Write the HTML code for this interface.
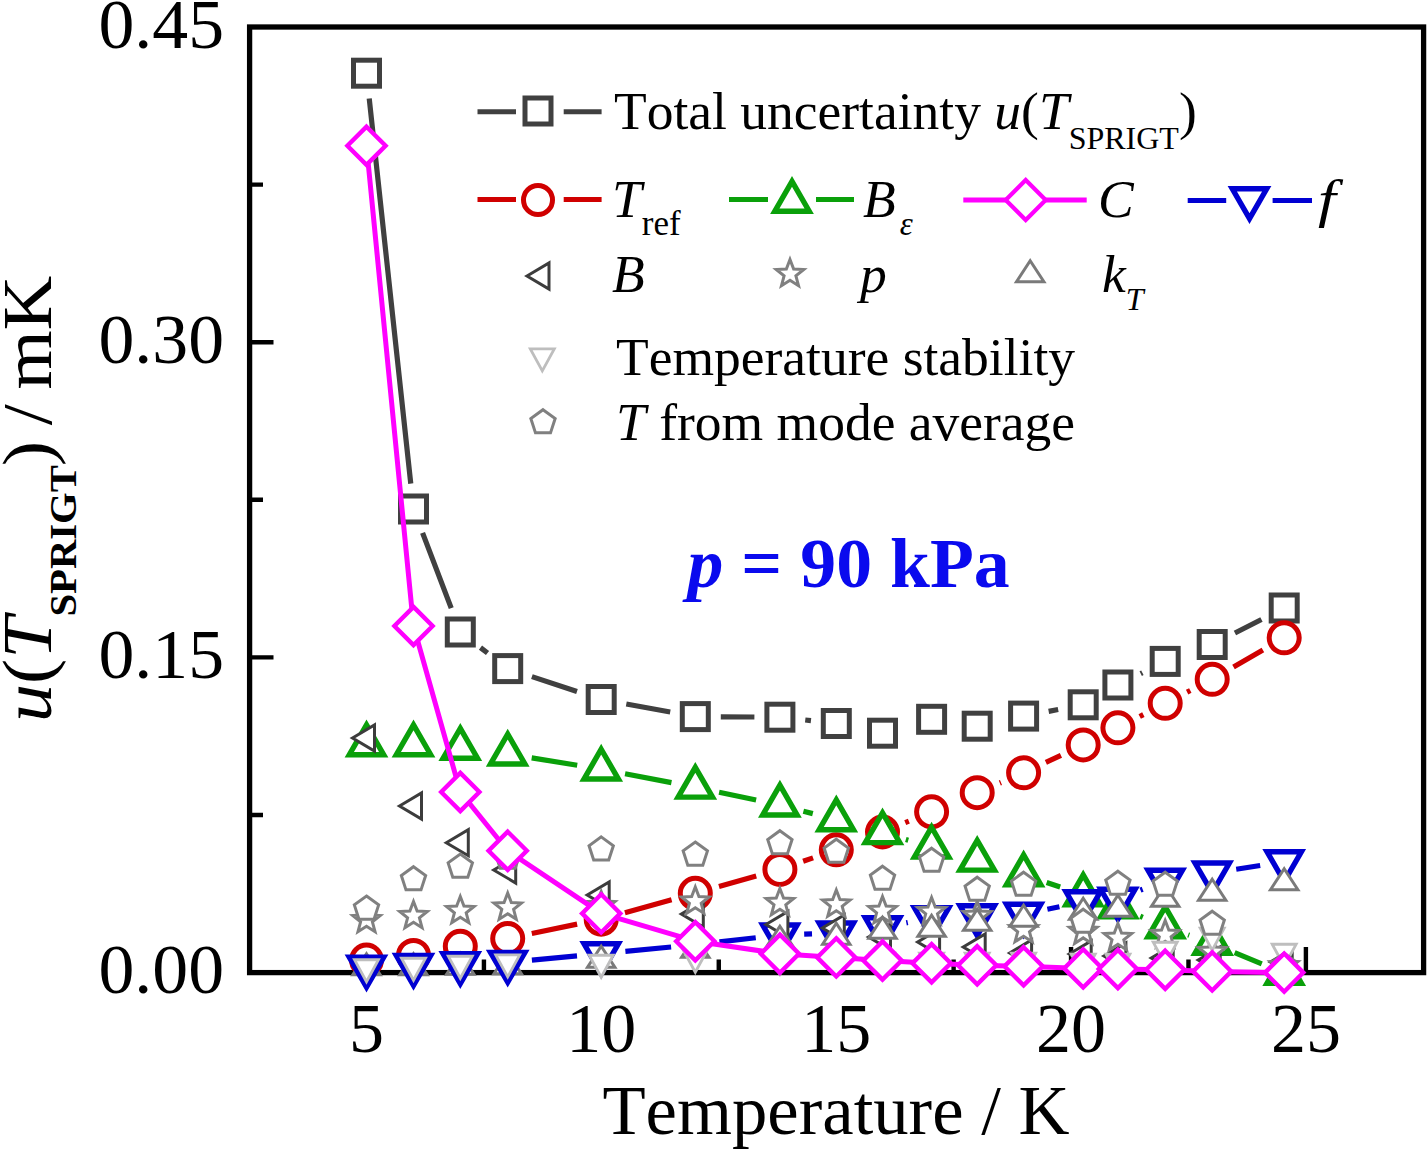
<!DOCTYPE html>
<html><head><meta charset="utf-8"><style>
html,body{margin:0;padding:0;background:#fff;}
body{width:1427px;height:1149px;overflow:hidden;font-family:"Liberation Serif",serif;}
svg{display:block;font-kerning:none;}
text{font-kerning:none;}
</style></head><body>
<svg width="1427" height="1149" viewBox="0 0 1427 1149">
<rect width="1427" height="1149" fill="#fff"/>
<rect x="249.6" y="27.0" width="1174" height="945.6" fill="none" stroke="#000" stroke-width="5.3"/>
<path d="M366.5,972.6V947M601.35,972.6V947M836.2,972.6V947M1071.05,972.6V947M1305.9,972.6V947M483.93,972.6V959.5M718.77,972.6V959.5M953.62,972.6V959.5M1188.47,972.6V959.5M249.6,657.4H273.5M249.6,342.21H273.5M249.6,815H263M249.6,499.81H263M249.6,184.61H263" stroke="#000" stroke-width="4.4" fill="none"/>
<g font-family="&quot;Liberation Serif&quot;, serif" font-size="70" fill="#000">
<text transform="translate(98.5,993.2) scale(1.025,1)">0.00</text>
<text transform="translate(98.5,678) scale(1.025,1)">0.15</text>
<text transform="translate(98.5,362.81) scale(1.025,1)">0.30</text>
<text transform="translate(98.5,47.61) scale(1.025,1)">0.45</text>
<text x="366.5" y="1052" text-anchor="middle">5</text>
<text x="601.35" y="1052" text-anchor="middle">10</text>
<text x="836.2" y="1052" text-anchor="middle">15</text>
<text x="1071.05" y="1052" text-anchor="middle">20</text>
<text x="1305.9" y="1052" text-anchor="middle">25</text>
<text transform="translate(836,1134) scale(1.01,1)" text-anchor="middle">Temperature / K</text>
<text transform="translate(51,498.8) rotate(-90) scale(1.085,1)" text-anchor="middle"><tspan font-style="italic">u</tspan>(<tspan font-style="italic">T</tspan><tspan font-size="37.5" font-weight="bold" dy="25">SPRIGT</tspan><tspan dy="-25" dx="-1">)</tspan><tspan dx="-3"> /</tspan><tspan dx="-4"> mK</tspan></text>
</g>
<text transform="translate(687.5,587) scale(1.026,1)" font-family="&quot;Liberation Serif&quot;, serif" font-size="70" font-weight="bold" fill="#0a0aee"><tspan font-style="italic">p</tspan> = 90 kPa</text>
<path d="M369.23,98.55L410.77,483.65M422.57,532.83L451.23,608.17M480.48,647.58L487.52,653.02M531.91,676.6L576.99,691.5M626.29,704.06L670.21,712.04M720.8,716.78L754.4,717.02M805.24,720.03L810.96,720.67M1048.65,711.35L1058.15,709.55M1140.72,673.62L1142.38,672.78M1234.94,632.97L1261.46,619.53" fill="none" stroke="#404040" stroke-width="5.2" stroke-linecap="butt"/>
<rect x="353.5" y="60.2" width="26" height="26" fill="#fff" stroke="#404040" stroke-width="5"/><rect x="400.5" y="496" width="26" height="26" fill="#fff" stroke="#404040" stroke-width="5"/><rect x="447.3" y="619" width="26" height="26" fill="#fff" stroke="#404040" stroke-width="5"/><rect x="494.7" y="655.6" width="26" height="26" fill="#fff" stroke="#404040" stroke-width="5"/><rect x="588.2" y="686.5" width="26" height="26" fill="#fff" stroke="#404040" stroke-width="5"/><rect x="682.3" y="703.6" width="26" height="26" fill="#fff" stroke="#404040" stroke-width="5"/><rect x="766.9" y="704.2" width="26" height="26" fill="#fff" stroke="#404040" stroke-width="5"/><rect x="823.3" y="710.5" width="26" height="26" fill="#fff" stroke="#404040" stroke-width="5"/><rect x="869.5" y="720.2" width="26" height="26" fill="#fff" stroke="#404040" stroke-width="5"/><rect x="918.6" y="706.3" width="26" height="26" fill="#fff" stroke="#404040" stroke-width="5"/><rect x="964.2" y="713.2" width="26" height="26" fill="#fff" stroke="#404040" stroke-width="5"/><rect x="1010.6" y="703.1" width="26" height="26" fill="#fff" stroke="#404040" stroke-width="5"/><rect x="1070.2" y="691.8" width="26" height="26" fill="#fff" stroke="#404040" stroke-width="5"/><rect x="1104.9" y="672" width="26" height="26" fill="#fff" stroke="#404040" stroke-width="5"/><rect x="1152.2" y="648.4" width="26" height="26" fill="#fff" stroke="#404040" stroke-width="5"/><rect x="1199.2" y="631.5" width="26" height="26" fill="#fff" stroke="#404040" stroke-width="5"/><rect x="1271.2" y="595" width="26" height="26" fill="#fff" stroke="#404040" stroke-width="5"/>
<path d="M531.79,933.53L577.11,924.17M624.92,912.67L671.58,899.83M718.97,886.61L756.23,876.09M803.14,861.32L813.06,857.88M905.25,822.64L908.85,821.16M999.81,783L1000.99,782.5M1045.88,762.37L1060.92,755.33M1139.74,716.49L1143.36,714.61M1187.11,692.11L1190.29,690.49M1233.51,667.02L1262.89,650.08" fill="none" stroke="#d00000" stroke-width="5.2" stroke-linecap="butt"/>
<circle cx="366.5" cy="960" r="15" fill="#fff" stroke="#d00000" stroke-width="5"/><circle cx="413.5" cy="955.4" r="15" fill="#fff" stroke="#d00000" stroke-width="5"/><circle cx="460.3" cy="946.3" r="15" fill="#fff" stroke="#d00000" stroke-width="5"/><circle cx="507.7" cy="938.5" r="15" fill="#fff" stroke="#d00000" stroke-width="5"/><circle cx="601.2" cy="919.2" r="15" fill="#fff" stroke="#d00000" stroke-width="5"/><circle cx="695.3" cy="893.3" r="15" fill="#fff" stroke="#d00000" stroke-width="5"/><circle cx="779.9" cy="869.4" r="15" fill="#fff" stroke="#d00000" stroke-width="5"/><circle cx="836.3" cy="849.8" r="15" fill="#fff" stroke="#d00000" stroke-width="5"/><circle cx="882.5" cy="832" r="15" fill="#fff" stroke="#d00000" stroke-width="5"/><circle cx="931.6" cy="811.8" r="15" fill="#fff" stroke="#d00000" stroke-width="5"/><circle cx="977.2" cy="792.7" r="15" fill="#fff" stroke="#d00000" stroke-width="5"/><circle cx="1023.6" cy="772.8" r="15" fill="#fff" stroke="#d00000" stroke-width="5"/><circle cx="1083.2" cy="744.9" r="15" fill="#fff" stroke="#d00000" stroke-width="5"/><circle cx="1117.9" cy="727.8" r="15" fill="#fff" stroke="#d00000" stroke-width="5"/><circle cx="1165.2" cy="703.3" r="15" fill="#fff" stroke="#d00000" stroke-width="5"/><circle cx="1212.2" cy="679.3" r="15" fill="#fff" stroke="#d00000" stroke-width="5"/><circle cx="1284.2" cy="637.8" r="15" fill="#fff" stroke="#d00000" stroke-width="5"/>
<path d="M531.69,757.87L577.21,765.23M625.06,773.69L671.44,782.61M719.08,792.2L756.12,800M803.4,811.17L812.8,813.63M905.82,839.54L908.28,840.26M1046.64,882.53L1060.16,887.07M1140.28,916.26L1142.82,917.34M1188.13,934.85L1189.27,935.25M1234.63,952.65L1261.77,963.95" fill="none" stroke="#0aa00a" stroke-width="5.2" stroke-linecap="butt"/>
<path d="M366.5,724.95L383.7,754.75L349.3,754.75Z" fill="#fff" stroke="#0aa00a" stroke-width="5.4" stroke-linejoin="miter"/><path d="M413.5,724.95L430.7,754.75L396.3,754.75Z" fill="#fff" stroke="#0aa00a" stroke-width="5.4" stroke-linejoin="miter"/><path d="M460.3,728.45L477.5,758.25L443.1,758.25Z" fill="#fff" stroke="#0aa00a" stroke-width="5.4" stroke-linejoin="miter"/><path d="M507.7,734.15L524.9,763.95L490.5,763.95Z" fill="#fff" stroke="#0aa00a" stroke-width="5.4" stroke-linejoin="miter"/><path d="M601.2,749.25L618.4,779.05L584,779.05Z" fill="#fff" stroke="#0aa00a" stroke-width="5.4" stroke-linejoin="miter"/><path d="M695.3,767.35L712.5,797.15L678.1,797.15Z" fill="#fff" stroke="#0aa00a" stroke-width="5.4" stroke-linejoin="miter"/><path d="M779.9,785.15L797.1,814.95L762.7,814.95Z" fill="#fff" stroke="#0aa00a" stroke-width="5.4" stroke-linejoin="miter"/><path d="M836.3,799.95L853.5,829.75L819.1,829.75Z" fill="#fff" stroke="#0aa00a" stroke-width="5.4" stroke-linejoin="miter"/><path d="M882.5,812.85L899.7,842.65L865.3,842.65Z" fill="#fff" stroke="#0aa00a" stroke-width="5.4" stroke-linejoin="miter"/><path d="M931.6,827.25L948.8,857.05L914.4,857.05Z" fill="#fff" stroke="#0aa00a" stroke-width="5.4" stroke-linejoin="miter"/><path d="M977.2,840.35L994.4,870.15L960,870.15Z" fill="#fff" stroke="#0aa00a" stroke-width="5.4" stroke-linejoin="miter"/><path d="M1023.6,854.95L1040.8,884.75L1006.4,884.75Z" fill="#fff" stroke="#0aa00a" stroke-width="5.4" stroke-linejoin="miter"/><path d="M1083.2,874.95L1100.4,904.75L1066,904.75Z" fill="#fff" stroke="#0aa00a" stroke-width="5.4" stroke-linejoin="miter"/><path d="M1117.9,886.95L1135.1,916.75L1100.7,916.75Z" fill="#fff" stroke="#0aa00a" stroke-width="5.4" stroke-linejoin="miter"/><path d="M1165.2,906.95L1182.4,936.75L1148,936.75Z" fill="#fff" stroke="#0aa00a" stroke-width="5.4" stroke-linejoin="miter"/><path d="M1212.2,923.45L1229.4,953.25L1195,953.25Z" fill="#fff" stroke="#0aa00a" stroke-width="5.4" stroke-linejoin="miter"/><path d="M1284.2,953.45L1301.4,983.25L1267,983.25Z" fill="#fff" stroke="#0aa00a" stroke-width="5.4" stroke-linejoin="miter"/>
<path d="M366.5,953.75L380.2,974.75L352.8,974.75Z" fill="#fff" stroke="#7a7a7a" stroke-width="3" stroke-linejoin="miter"/><path d="M413.5,953.75L427.2,974.75L399.8,974.75Z" fill="#fff" stroke="#7a7a7a" stroke-width="3" stroke-linejoin="miter"/><path d="M460.3,953.25L474,974.25L446.6,974.25Z" fill="#fff" stroke="#7a7a7a" stroke-width="3" stroke-linejoin="miter"/><path d="M507.7,952.75L521.4,973.75L494,973.75Z" fill="#fff" stroke="#7a7a7a" stroke-width="3" stroke-linejoin="miter"/>
<path d="M531.9,960.07L577,955.93M625.39,951.39L671.11,947.01M719.44,941.93L755.76,937.77M804.18,934.14L812.02,933.86M906.31,922.85L907.79,922.55M1047.38,909.21L1059.42,906.69M1140.45,890.14L1142.65,889.26M1236.21,869.23L1260.19,865.47" fill="none" stroke="#0000d2" stroke-width="5.2" stroke-linecap="butt"/>
<path d="M349.3,957.25L383.7,957.25L366.5,987.05Z" fill="#fff" stroke="#0000d2" stroke-width="5.4" stroke-linejoin="miter"/><path d="M396.3,955.55L430.7,955.55L413.5,985.35Z" fill="#fff" stroke="#0000d2" stroke-width="5.4" stroke-linejoin="miter"/><path d="M443.1,953.75L477.5,953.75L460.3,983.55Z" fill="#fff" stroke="#0000d2" stroke-width="5.4" stroke-linejoin="miter"/><path d="M490.5,952.35L524.9,952.35L507.7,982.15Z" fill="#fff" stroke="#0000d2" stroke-width="5.4" stroke-linejoin="miter"/><path d="M584,943.75L618.4,943.75L601.2,973.55Z" fill="#fff" stroke="#0000d2" stroke-width="5.4" stroke-linejoin="miter"/><path d="M762.7,925.05L797.1,925.05L779.9,954.85Z" fill="#fff" stroke="#0000d2" stroke-width="5.4" stroke-linejoin="miter"/><path d="M819.1,923.05L853.5,923.05L836.3,952.85Z" fill="#fff" stroke="#0000d2" stroke-width="5.4" stroke-linejoin="miter"/><path d="M865.3,917.75L899.7,917.75L882.5,947.55Z" fill="#fff" stroke="#0000d2" stroke-width="5.4" stroke-linejoin="miter"/><path d="M914.4,907.75L948.8,907.75L931.6,937.55Z" fill="#fff" stroke="#0000d2" stroke-width="5.4" stroke-linejoin="miter"/><path d="M960,905.75L994.4,905.75L977.2,935.55Z" fill="#fff" stroke="#0000d2" stroke-width="5.4" stroke-linejoin="miter"/><path d="M1006.4,904.25L1040.8,904.25L1023.6,934.05Z" fill="#fff" stroke="#0000d2" stroke-width="5.4" stroke-linejoin="miter"/><path d="M1066,891.75L1100.4,891.75L1083.2,921.55Z" fill="#fff" stroke="#0000d2" stroke-width="5.4" stroke-linejoin="miter"/><path d="M1100.7,889.25L1135.1,889.25L1117.9,919.05Z" fill="#fff" stroke="#0000d2" stroke-width="5.4" stroke-linejoin="miter"/><path d="M1148,870.25L1182.4,870.25L1165.2,900.05Z" fill="#fff" stroke="#0000d2" stroke-width="5.4" stroke-linejoin="miter"/><path d="M1195,863.05L1229.4,863.05L1212.2,892.85Z" fill="#fff" stroke="#0000d2" stroke-width="5.4" stroke-linejoin="miter"/><path d="M1267,851.75L1301.4,851.75L1284.2,881.55Z" fill="#fff" stroke="#0000d2" stroke-width="5.4" stroke-linejoin="miter"/>
<path d="M352.5,738L374.5,725L374.5,751Z" fill="#fff" stroke="#3c3c3c" stroke-width="3" stroke-linejoin="miter"/><path d="M399.5,806L421.5,793L421.5,819Z" fill="#fff" stroke="#3c3c3c" stroke-width="3" stroke-linejoin="miter"/><path d="M446.3,842.7L468.3,829.7L468.3,855.7Z" fill="#fff" stroke="#3c3c3c" stroke-width="3" stroke-linejoin="miter"/><path d="M493.7,870L515.7,857L515.7,883Z" fill="#fff" stroke="#3c3c3c" stroke-width="3" stroke-linejoin="miter"/><path d="M587.2,895L609.2,882L609.2,908Z" fill="#fff" stroke="#3c3c3c" stroke-width="3" stroke-linejoin="miter"/><path d="M681.3,914L703.3,901L703.3,927Z" fill="#fff" stroke="#3c3c3c" stroke-width="3" stroke-linejoin="miter"/><path d="M765.9,924.5L787.9,911.5L787.9,937.5Z" fill="#fff" stroke="#3c3c3c" stroke-width="3" stroke-linejoin="miter"/><path d="M822.3,928L844.3,915L844.3,941Z" fill="#fff" stroke="#3c3c3c" stroke-width="3" stroke-linejoin="miter"/><path d="M868.5,937L890.5,924L890.5,950Z" fill="#fff" stroke="#3c3c3c" stroke-width="3" stroke-linejoin="miter"/><path d="M917.6,942L939.6,929L939.6,955Z" fill="#fff" stroke="#3c3c3c" stroke-width="3" stroke-linejoin="miter"/><path d="M963.2,947L985.2,934L985.2,960Z" fill="#fff" stroke="#3c3c3c" stroke-width="3" stroke-linejoin="miter"/><path d="M1009.6,953L1031.6,940L1031.6,966Z" fill="#fff" stroke="#3c3c3c" stroke-width="3" stroke-linejoin="miter"/><path d="M1069.2,954L1091.2,941L1091.2,967Z" fill="#fff" stroke="#3c3c3c" stroke-width="3" stroke-linejoin="miter"/><path d="M1103.9,956L1125.9,943L1125.9,969Z" fill="#fff" stroke="#3c3c3c" stroke-width="3" stroke-linejoin="miter"/><path d="M1151.2,958L1173.2,945L1173.2,971Z" fill="#fff" stroke="#3c3c3c" stroke-width="3" stroke-linejoin="miter"/><path d="M1198.2,960L1220.2,947L1220.2,973Z" fill="#fff" stroke="#3c3c3c" stroke-width="3" stroke-linejoin="miter"/><path d="M1270.2,962L1292.2,949L1292.2,975Z" fill="#fff" stroke="#3c3c3c" stroke-width="3" stroke-linejoin="miter"/>
<path d="M366.5,905.5L370.14,914.98L380.29,915.52L372.4,921.92L375.02,931.73L366.5,926.2L357.98,931.73L360.6,921.92L352.71,915.52L362.86,914.98Z" fill="#fff" stroke="#808080" stroke-width="3" stroke-linejoin="miter" stroke-miterlimit="3"/><path d="M413.5,901.5L417.14,910.98L427.29,911.52L419.4,917.92L422.02,927.73L413.5,922.2L404.98,927.73L407.6,917.92L399.71,911.52L409.86,910.98Z" fill="#fff" stroke="#808080" stroke-width="3" stroke-linejoin="miter" stroke-miterlimit="3"/><path d="M460.3,896.5L463.94,905.98L474.09,906.52L466.2,912.92L468.82,922.73L460.3,917.2L451.78,922.73L454.4,912.92L446.51,906.52L456.66,905.98Z" fill="#fff" stroke="#808080" stroke-width="3" stroke-linejoin="miter" stroke-miterlimit="3"/><path d="M507.7,893L511.34,902.48L521.49,903.02L513.6,909.42L516.22,919.23L507.7,913.7L499.18,919.23L501.8,909.42L493.91,903.02L504.06,902.48Z" fill="#fff" stroke="#808080" stroke-width="3" stroke-linejoin="miter" stroke-miterlimit="3"/><path d="M601.2,891.5L604.84,900.98L614.99,901.52L607.1,907.92L609.72,917.73L601.2,912.2L592.68,917.73L595.3,907.92L587.41,901.52L597.56,900.98Z" fill="#fff" stroke="#808080" stroke-width="3" stroke-linejoin="miter" stroke-miterlimit="3"/><path d="M695.3,887L698.94,896.48L709.09,897.02L701.2,903.42L703.82,913.23L695.3,907.7L686.78,913.23L689.4,903.42L681.51,897.02L691.66,896.48Z" fill="#fff" stroke="#808080" stroke-width="3" stroke-linejoin="miter" stroke-miterlimit="3"/><path d="M779.9,888.5L783.54,897.98L793.69,898.52L785.8,904.92L788.42,914.73L779.9,909.2L771.38,914.73L774,904.92L766.11,898.52L776.26,897.98Z" fill="#fff" stroke="#808080" stroke-width="3" stroke-linejoin="miter" stroke-miterlimit="3"/><path d="M836.3,890L839.94,899.48L850.09,900.02L842.2,906.42L844.82,916.23L836.3,910.7L827.78,916.23L830.4,906.42L822.51,900.02L832.66,899.48Z" fill="#fff" stroke="#808080" stroke-width="3" stroke-linejoin="miter" stroke-miterlimit="3"/><path d="M882.5,896.5L886.14,905.98L896.29,906.52L888.4,912.92L891.02,922.73L882.5,917.2L873.98,922.73L876.6,912.92L868.71,906.52L878.86,905.98Z" fill="#fff" stroke="#808080" stroke-width="3" stroke-linejoin="miter" stroke-miterlimit="3"/><path d="M931.6,897.5L935.24,906.98L945.39,907.52L937.5,913.92L940.12,923.73L931.6,918.2L923.08,923.73L925.7,913.92L917.81,907.52L927.96,906.98Z" fill="#fff" stroke="#808080" stroke-width="3" stroke-linejoin="miter" stroke-miterlimit="3"/><path d="M977.2,901.5L980.84,910.98L990.99,911.52L983.1,917.92L985.72,927.73L977.2,922.2L968.68,927.73L971.3,917.92L963.41,911.52L973.56,910.98Z" fill="#fff" stroke="#808080" stroke-width="3" stroke-linejoin="miter" stroke-miterlimit="3"/><path d="M1023.6,915.5L1027.24,924.98L1037.39,925.52L1029.5,931.92L1032.12,941.73L1023.6,936.2L1015.08,941.73L1017.7,931.92L1009.81,925.52L1019.96,924.98Z" fill="#fff" stroke="#808080" stroke-width="3" stroke-linejoin="miter" stroke-miterlimit="3"/><path d="M1083.2,917.2L1086.84,926.68L1096.99,927.22L1089.1,933.62L1091.72,943.43L1083.2,937.9L1074.68,943.43L1077.3,933.62L1069.41,927.22L1079.56,926.68Z" fill="#fff" stroke="#808080" stroke-width="3" stroke-linejoin="miter" stroke-miterlimit="3"/><path d="M1117.9,923.5L1121.54,932.98L1131.69,933.52L1123.8,939.92L1126.42,949.73L1117.9,944.2L1109.38,949.73L1112,939.92L1104.11,933.52L1114.26,932.98Z" fill="#fff" stroke="#808080" stroke-width="3" stroke-linejoin="miter" stroke-miterlimit="3"/><path d="M1165.2,920.5L1168.84,929.98L1178.99,930.52L1171.1,936.92L1173.72,946.73L1165.2,941.2L1156.68,946.73L1159.3,936.92L1151.41,930.52L1161.56,929.98Z" fill="#fff" stroke="#808080" stroke-width="3" stroke-linejoin="miter" stroke-miterlimit="3"/><path d="M1212.2,937.5L1215.84,946.98L1225.99,947.52L1218.1,953.92L1220.72,963.73L1212.2,958.2L1203.68,963.73L1206.3,953.92L1198.41,947.52L1208.56,946.98Z" fill="#fff" stroke="#808080" stroke-width="3" stroke-linejoin="miter" stroke-miterlimit="3"/><path d="M1284.2,951.5L1287.84,960.98L1297.99,961.52L1290.1,967.92L1292.72,977.73L1284.2,972.2L1275.68,977.73L1278.3,967.92L1270.41,961.52L1280.56,960.98Z" fill="#fff" stroke="#808080" stroke-width="3" stroke-linejoin="miter" stroke-miterlimit="3"/>
<path d="M601.2,946.25L614.9,967.25L587.5,967.25Z" fill="#fff" stroke="#7a7a7a" stroke-width="3" stroke-linejoin="miter"/><path d="M695.3,936.25L709,957.25L681.6,957.25Z" fill="#fff" stroke="#7a7a7a" stroke-width="3" stroke-linejoin="miter"/><path d="M779.9,926.25L793.6,947.25L766.2,947.25Z" fill="#fff" stroke="#7a7a7a" stroke-width="3" stroke-linejoin="miter"/><path d="M836.3,923.25L850,944.25L822.6,944.25Z" fill="#fff" stroke="#7a7a7a" stroke-width="3" stroke-linejoin="miter"/><path d="M882.5,917.25L896.2,938.25L868.8,938.25Z" fill="#fff" stroke="#7a7a7a" stroke-width="3" stroke-linejoin="miter"/><path d="M931.6,915.25L945.3,936.25L917.9,936.25Z" fill="#fff" stroke="#7a7a7a" stroke-width="3" stroke-linejoin="miter"/><path d="M977.2,909.25L990.9,930.25L963.5,930.25Z" fill="#fff" stroke="#7a7a7a" stroke-width="3" stroke-linejoin="miter"/><path d="M1023.6,905.25L1037.3,926.25L1009.9,926.25Z" fill="#fff" stroke="#7a7a7a" stroke-width="3" stroke-linejoin="miter"/><path d="M1083.2,898.25L1096.9,919.25L1069.5,919.25Z" fill="#fff" stroke="#7a7a7a" stroke-width="3" stroke-linejoin="miter"/><path d="M1117.9,895.25L1131.6,916.25L1104.2,916.25Z" fill="#fff" stroke="#7a7a7a" stroke-width="3" stroke-linejoin="miter"/><path d="M1165.2,885.25L1178.9,906.25L1151.5,906.25Z" fill="#fff" stroke="#7a7a7a" stroke-width="3" stroke-linejoin="miter"/><path d="M1212.2,879.25L1225.9,900.25L1198.5,900.25Z" fill="#fff" stroke="#7a7a7a" stroke-width="3" stroke-linejoin="miter"/><path d="M1284.2,868.75L1297.9,889.75L1270.5,889.75Z" fill="#fff" stroke="#7a7a7a" stroke-width="3" stroke-linejoin="miter"/>
<path d="M354.5,959.75L378.5,959.75L366.5,981.75Z" fill="#fff" stroke="#bebebe" stroke-width="2.8" stroke-linejoin="miter"/><path d="M401.5,958.25L425.5,958.25L413.5,980.25Z" fill="#fff" stroke="#bebebe" stroke-width="2.8" stroke-linejoin="miter"/><path d="M448.3,956.25L472.3,956.25L460.3,978.25Z" fill="#fff" stroke="#bebebe" stroke-width="2.8" stroke-linejoin="miter"/><path d="M495.7,954.85L519.7,954.85L507.7,976.85Z" fill="#fff" stroke="#bebebe" stroke-width="2.8" stroke-linejoin="miter"/><path d="M589.2,955.25L613.2,955.25L601.2,977.25Z" fill="#fff" stroke="#bebebe" stroke-width="2.8" stroke-linejoin="miter"/><path d="M683.3,950.25L707.3,950.25L695.3,972.25Z" fill="#fff" stroke="#bebebe" stroke-width="2.8" stroke-linejoin="miter"/><path d="M767.9,952.25L791.9,952.25L779.9,974.25Z" fill="#fff" stroke="#bebebe" stroke-width="2.8" stroke-linejoin="miter"/><path d="M824.3,952.25L848.3,952.25L836.3,974.25Z" fill="#fff" stroke="#bebebe" stroke-width="2.8" stroke-linejoin="miter"/><path d="M870.5,953.25L894.5,953.25L882.5,975.25Z" fill="#fff" stroke="#bebebe" stroke-width="2.8" stroke-linejoin="miter"/><path d="M919.6,953.25L943.6,953.25L931.6,975.25Z" fill="#fff" stroke="#bebebe" stroke-width="2.8" stroke-linejoin="miter"/><path d="M965.2,953.25L989.2,953.25L977.2,975.25Z" fill="#fff" stroke="#bebebe" stroke-width="2.8" stroke-linejoin="miter"/><path d="M1011.6,953.25L1035.6,953.25L1023.6,975.25Z" fill="#fff" stroke="#bebebe" stroke-width="2.8" stroke-linejoin="miter"/><path d="M1071.2,954.25L1095.2,954.25L1083.2,976.25Z" fill="#fff" stroke="#bebebe" stroke-width="2.8" stroke-linejoin="miter"/><path d="M1105.9,954.25L1129.9,954.25L1117.9,976.25Z" fill="#fff" stroke="#bebebe" stroke-width="2.8" stroke-linejoin="miter"/><path d="M1153.2,942.25L1177.2,942.25L1165.2,964.25Z" fill="#fff" stroke="#bebebe" stroke-width="2.8" stroke-linejoin="miter"/><path d="M1200.2,928.25L1224.2,928.25L1212.2,950.25Z" fill="#fff" stroke="#bebebe" stroke-width="2.8" stroke-linejoin="miter"/><path d="M1272.2,944.25L1296.2,944.25L1284.2,966.25Z" fill="#fff" stroke="#bebebe" stroke-width="2.8" stroke-linejoin="miter"/>
<path d="M366.5,896L378.67,904.84L374.02,919.16L358.98,919.16L354.33,904.84Z" fill="#fff" stroke="#808080" stroke-width="3" stroke-linejoin="miter"/><path d="M413.5,866.7L425.67,875.54L421.02,889.86L405.98,889.86L401.33,875.54Z" fill="#fff" stroke="#808080" stroke-width="3" stroke-linejoin="miter"/><path d="M460.3,854L472.47,862.84L467.82,877.16L452.78,877.16L448.13,862.84Z" fill="#fff" stroke="#808080" stroke-width="3" stroke-linejoin="miter"/><path d="M507.7,845.2L519.87,854.04L515.22,868.36L500.18,868.36L495.53,854.04Z" fill="#fff" stroke="#808080" stroke-width="3" stroke-linejoin="miter"/><path d="M601.2,836.9L613.37,845.74L608.72,860.06L593.68,860.06L589.03,845.74Z" fill="#fff" stroke="#808080" stroke-width="3" stroke-linejoin="miter"/><path d="M695.3,842L707.47,850.84L702.82,865.16L687.78,865.16L683.13,850.84Z" fill="#fff" stroke="#808080" stroke-width="3" stroke-linejoin="miter"/><path d="M779.9,830.7L792.07,839.54L787.42,853.86L772.38,853.86L767.73,839.54Z" fill="#fff" stroke="#808080" stroke-width="3" stroke-linejoin="miter"/><path d="M836.3,839.2L848.47,848.04L843.82,862.36L828.78,862.36L824.13,848.04Z" fill="#fff" stroke="#808080" stroke-width="3" stroke-linejoin="miter"/><path d="M882.5,866.2L894.67,875.04L890.02,889.36L874.98,889.36L870.33,875.04Z" fill="#fff" stroke="#808080" stroke-width="3" stroke-linejoin="miter"/><path d="M931.6,848.2L943.77,857.04L939.12,871.36L924.08,871.36L919.43,857.04Z" fill="#fff" stroke="#808080" stroke-width="3" stroke-linejoin="miter"/><path d="M977.2,877.2L989.37,886.04L984.72,900.36L969.68,900.36L965.03,886.04Z" fill="#fff" stroke="#808080" stroke-width="3" stroke-linejoin="miter"/><path d="M1023.6,872.2L1035.77,881.04L1031.12,895.36L1016.08,895.36L1011.43,881.04Z" fill="#fff" stroke="#808080" stroke-width="3" stroke-linejoin="miter"/><path d="M1083.2,909.2L1095.37,918.04L1090.72,932.36L1075.68,932.36L1071.03,918.04Z" fill="#fff" stroke="#808080" stroke-width="3" stroke-linejoin="miter"/><path d="M1117.9,871.2L1130.07,880.04L1125.42,894.36L1110.38,894.36L1105.73,880.04Z" fill="#fff" stroke="#808080" stroke-width="3" stroke-linejoin="miter"/><path d="M1165.2,872.2L1177.37,881.04L1172.72,895.36L1157.68,895.36L1153.03,881.04Z" fill="#fff" stroke="#808080" stroke-width="3" stroke-linejoin="miter"/><path d="M1212.2,911.2L1224.37,920.04L1219.72,934.36L1204.68,934.36L1200.03,920.04Z" fill="#fff" stroke="#808080" stroke-width="3" stroke-linejoin="miter"/><path d="M1284.2,953.2L1296.37,962.04L1291.72,976.36L1276.68,976.36L1272.03,962.04Z" fill="#fff" stroke="#808080" stroke-width="3" stroke-linejoin="miter"/>
<path d="M366.5,145.8L413.5,626L460.3,792L507.7,850.8L601.2,913.4L695.3,941.2L779.9,953.7L836.3,957.4L882.5,960.5L931.6,963.2L977.2,965.3L1023.6,966.3L1083.2,968.4L1117.9,969L1165.2,969.8L1212.2,971.4L1284.2,972.6" fill="none" stroke="#ff00ff" stroke-width="5" stroke-linejoin="round"/>
<path d="M366.5,126.7L385.6,145.8L366.5,164.9L347.4,145.8Z" fill="#fff" stroke="#ff00ff" stroke-width="4.4" stroke-linejoin="miter"/><path d="M413.5,606.9L432.6,626L413.5,645.1L394.4,626Z" fill="#fff" stroke="#ff00ff" stroke-width="4.4" stroke-linejoin="miter"/><path d="M460.3,772.9L479.4,792L460.3,811.1L441.2,792Z" fill="#fff" stroke="#ff00ff" stroke-width="4.4" stroke-linejoin="miter"/><path d="M507.7,831.7L526.8,850.8L507.7,869.9L488.6,850.8Z" fill="#fff" stroke="#ff00ff" stroke-width="4.4" stroke-linejoin="miter"/><path d="M601.2,894.3L620.3,913.4L601.2,932.5L582.1,913.4Z" fill="#fff" stroke="#ff00ff" stroke-width="4.4" stroke-linejoin="miter"/><path d="M695.3,922.1L714.4,941.2L695.3,960.3L676.2,941.2Z" fill="#fff" stroke="#ff00ff" stroke-width="4.4" stroke-linejoin="miter"/><path d="M779.9,934.6L799,953.7L779.9,972.8L760.8,953.7Z" fill="#fff" stroke="#ff00ff" stroke-width="4.4" stroke-linejoin="miter"/><path d="M836.3,938.3L855.4,957.4L836.3,976.5L817.2,957.4Z" fill="#fff" stroke="#ff00ff" stroke-width="4.4" stroke-linejoin="miter"/><path d="M882.5,941.4L901.6,960.5L882.5,979.6L863.4,960.5Z" fill="#fff" stroke="#ff00ff" stroke-width="4.4" stroke-linejoin="miter"/><path d="M931.6,944.1L950.7,963.2L931.6,982.3L912.5,963.2Z" fill="#fff" stroke="#ff00ff" stroke-width="4.4" stroke-linejoin="miter"/><path d="M977.2,946.2L996.3,965.3L977.2,984.4L958.1,965.3Z" fill="#fff" stroke="#ff00ff" stroke-width="4.4" stroke-linejoin="miter"/><path d="M1023.6,947.2L1042.7,966.3L1023.6,985.4L1004.5,966.3Z" fill="#fff" stroke="#ff00ff" stroke-width="4.4" stroke-linejoin="miter"/><path d="M1083.2,949.3L1102.3,968.4L1083.2,987.5L1064.1,968.4Z" fill="#fff" stroke="#ff00ff" stroke-width="4.4" stroke-linejoin="miter"/><path d="M1117.9,949.9L1137,969L1117.9,988.1L1098.8,969Z" fill="#fff" stroke="#ff00ff" stroke-width="4.4" stroke-linejoin="miter"/><path d="M1165.2,950.7L1184.3,969.8L1165.2,988.9L1146.1,969.8Z" fill="#fff" stroke="#ff00ff" stroke-width="4.4" stroke-linejoin="miter"/><path d="M1212.2,952.3L1231.3,971.4L1212.2,990.5L1193.1,971.4Z" fill="#fff" stroke="#ff00ff" stroke-width="4.4" stroke-linejoin="miter"/><path d="M1284.2,953.5L1303.3,972.6L1284.2,991.7L1265.1,972.6Z" fill="#fff" stroke="#ff00ff" stroke-width="4.4" stroke-linejoin="miter"/>
<path d="M477.5,111.8H516" stroke="#404040" stroke-width="5" fill="none"/><path d="M563.7,111.8H601.6" stroke="#404040" stroke-width="5" fill="none"/><rect x="525" y="98" width="26" height="26" fill="#fff" stroke="#404040" stroke-width="5"/>
<path d="M477.5,199.5H516" stroke="#d00000" stroke-width="5" fill="none"/><path d="M563.7,199.5H601.6" stroke="#d00000" stroke-width="5" fill="none"/><circle cx="538" cy="200" r="14.5" fill="#fff" stroke="#d00000" stroke-width="5"/>
<path d="M729,199.5H768" stroke="#0aa00a" stroke-width="5" fill="none"/><path d="M816,199.5H854" stroke="#0aa00a" stroke-width="5" fill="none"/><path d="M792,181.45L809.2,211.25L774.8,211.25Z" fill="#fff" stroke="#0aa00a" stroke-width="5.4" stroke-linejoin="miter"/>
<path d="M963.3,200H1086.7" stroke="#ff00ff" stroke-width="5" fill="none"/><path d="M1025.7,180L1045.7,200L1025.7,220L1005.7,200Z" fill="#fff" stroke="#ff00ff" stroke-width="4.2" stroke-linejoin="miter"/>
<path d="M1187.7,200.5H1226.2" stroke="#0000d2" stroke-width="5" fill="none"/><path d="M1272.6,200.5H1312" stroke="#0000d2" stroke-width="5" fill="none"/><path d="M1232.3,188.75L1266.7,188.75L1249.5,218.55Z" fill="#fff" stroke="#0000d2" stroke-width="5.4" stroke-linejoin="miter"/>
<path d="M527,276L549,263L549,289Z" fill="#fff" stroke="#3c3c3c" stroke-width="3" stroke-linejoin="miter"/>
<path d="M790,259.5L793.64,268.98L803.79,269.52L795.9,275.92L798.52,285.73L790,280.2L781.48,285.73L784.1,275.92L776.21,269.52L786.36,268.98Z" fill="#fff" stroke="#808080" stroke-width="3" stroke-linejoin="miter" stroke-miterlimit="3"/>
<path d="M1030.2,260.75L1043.9,281.75L1016.5,281.75Z" fill="#fff" stroke="#7a7a7a" stroke-width="3" stroke-linejoin="miter"/>
<path d="M530.3,348.95L554.3,348.95L542.3,370.95Z" fill="#fff" stroke="#bebebe" stroke-width="2.8" stroke-linejoin="miter"/>
<path d="M543,409.7L555.17,418.54L550.52,432.86L535.48,432.86L530.83,418.54Z" fill="#fff" stroke="#808080" stroke-width="3" stroke-linejoin="miter"/>
<g font-family="&quot;Liberation Serif&quot;, serif" font-size="53.5" fill="#000">
<text x="614" y="128.7">Total uncertainty <tspan font-style="italic">u</tspan>(<tspan font-style="italic">T</tspan><tspan font-size="32" dy="20">SPRIGT</tspan><tspan dy="-20">)</tspan></text>
<text x="612" y="217" font-style="italic">T<tspan font-style="normal" font-size="35" dy="18">ref</tspan></text>
<text x="863" y="217" font-style="italic">B<tspan font-size="33" dx="4" dy="18">ε</tspan></text>
<text x="1098" y="217" font-style="italic">C</text>
<text transform="translate(1318,217) scale(1.2,1)" font-style="italic">f</text>
<text x="612" y="291.9" font-style="italic">B</text>
<text x="860" y="291.9" font-style="italic">p</text>
<text x="1102" y="291.5" font-style="italic">k<tspan font-size="32" dy="18">T</tspan></text>
<text x="616" y="374.5">Temperature stability</text>
<text x="616" y="439.6"><tspan font-style="italic">T</tspan> from mode average</text>
</g>
</svg>
</body></html>
